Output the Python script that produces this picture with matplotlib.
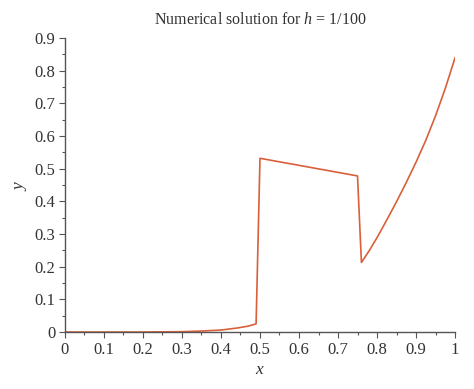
import matplotlib
matplotlib.use("Agg")
import matplotlib.pyplot as plt
from matplotlib.ticker import MultipleLocator

# points
x = [0.0, 0.1, 0.2, 0.25, 0.3, 0.35, 0.4, 0.44, 0.47, 0.49,
     0.50, 0.75,
     0.76, 0.78, 0.80, 0.825, 0.85, 0.875, 0.90, 0.925, 0.95, 0.975, 1.0]
y = [0.0, 0.0, 0.0, 0.0005, 0.001, 0.003, 0.006, 0.012, 0.018, 0.025,
     0.532, 0.478,
     0.213, 0.249, 0.289, 0.343, 0.399, 0.458, 0.520, 0.587, 0.662, 0.746, 0.840]

xticks = [0, 0.1, 0.2, 0.3, 0.4, 0.5, 0.6, 0.7, 0.8, 0.9, 1.0]
xlabels = ['0', '0.1', '0.2', '0.3', '0.4', '0.5', '0.6', '0.7', '0.8', '0.9', '1']
yticks = [0, 0.1, 0.2, 0.3, 0.4, 0.5, 0.6, 0.7, 0.8, 0.9]
ylabels = ['0', '0.1', '0.2', '0.3', '0.4', '0.5', '0.6', '0.7', '0.8', '0.9']

plt.rcParams['font.family'] = ['Liberation Serif', 'DejaVu Serif']
plt.rcParams['mathtext.fontset'] = 'custom'
plt.rcParams['mathtext.it'] = 'Liberation Serif:italic'
plt.rcParams['mathtext.rm'] = 'Liberation Serif'

fig = plt.figure(figsize=(4.74, 3.89), dpi=100)
ax = fig.add_axes([0.137, 0.1465, 0.823, 0.7555])

ax.plot(x, y, color='#d9603b', lw=1.2)

ax.set_xlim(0, 1)
ax.set_ylim(0, 0.9)
ax.set_xticks(xticks)
ax.set_xticklabels(xlabels)
ax.set_yticks(yticks)
ax.set_yticklabels(ylabels)
ax.xaxis.set_minor_locator(MultipleLocator(0.05))
ax.yaxis.set_minor_locator(MultipleLocator(0.05))

for s in ['top', 'right']:
    ax.spines[s].set_visible(False)
for s in ['left', 'bottom']:
    ax.spines[s].set_color('#555555')
    ax.spines[s].set_linewidth(1.0)

ax.tick_params(which='major', direction='out', length=4, width=0.8, color='#555555',
               labelsize=12, labelcolor='#333333', pad=3)
ax.tick_params(which='minor', direction='out', length=2.5, width=0.8, color='#555555')

ax.set_xlabel('$x$', fontsize=12.5, color='#333333', labelpad=3)
ax.set_ylabel('$y$', fontsize=12.5, color='#333333', labelpad=4)
ax.set_title('Numerical solution for $h$ = 1/100', fontsize=11.5, color='#333333', pad=10)

fig.savefig('out.png', dpi=100)
